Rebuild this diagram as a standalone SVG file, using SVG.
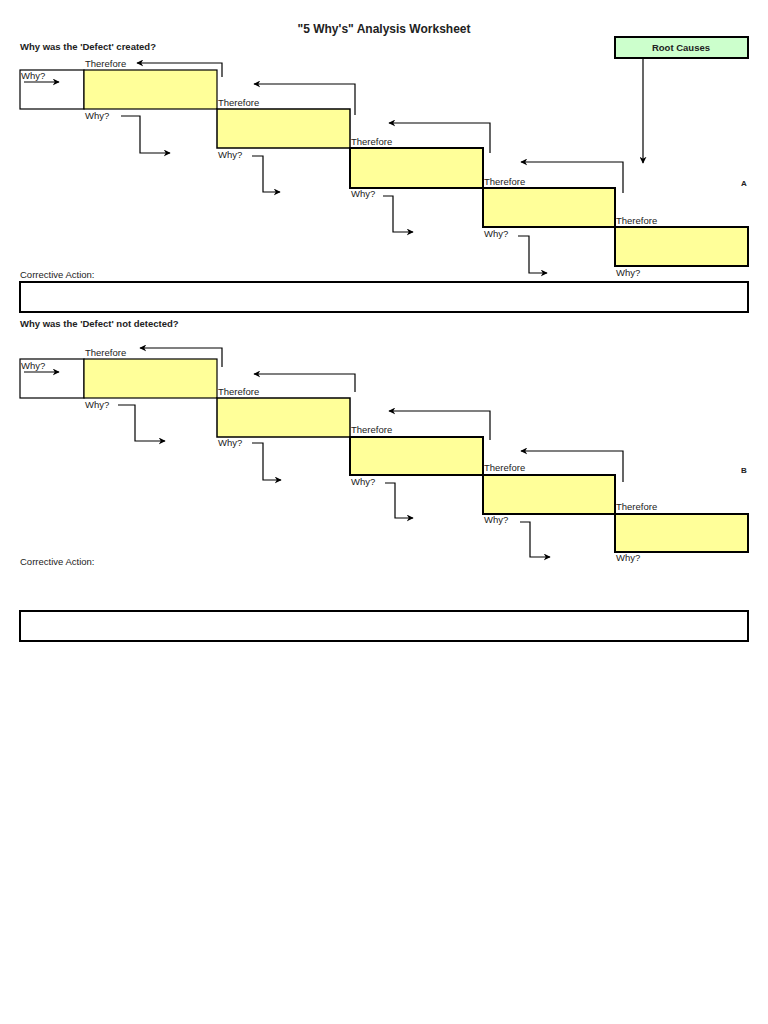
<svg xmlns="http://www.w3.org/2000/svg" width="768" height="1024" viewBox="0 0 768 1024">
<style>
text{font-family:"Liberation Sans",Arial,sans-serif;font-size:9.5px;fill:#222}
.b{font-weight:bold}
.y{fill:#ffff99;stroke:#000;stroke-width:2}
.w{fill:#fff;stroke:#000;stroke-width:1.2}
.c{fill:none;stroke:#000;stroke-width:1.2;marker-end:url(#ah)}
</style>
<defs><marker id="ah" viewBox="0 0 10 10" refX="9" refY="5" markerWidth="7" markerHeight="7" orient="auto" markerUnits="userSpaceOnUse"><path d="M0,0 L10,5 L0,10 L3,5 Z" fill="#000"/></marker></defs>
<rect width="768" height="1024" fill="#fff"/>
<text x="384" y="33" text-anchor="middle" class="b" style="font-size:12px">"5 Why's" Analysis Worksheet</text>
<g id="root"><rect x="615" y="37" width="133" height="21" fill="#ccffcc" stroke="#000" stroke-width="2"/><text x="681" y="51" text-anchor="middle" class="b">Root Causes</text></g>
<g id="sectionA">
<text x="20" y="50" class="b">Why was the 'Defect' created?</text>
<rect id="a0" x="20" y="70" width="64" height="39" class="w"/>
<rect id="a1" x="84" y="70" width="133" height="39" class="y" style="stroke-width:1.2"/>
<rect id="a2" x="217" y="109" width="133" height="39" class="y" style="stroke-width:1.5"/>
<rect id="a3" x="350" y="148" width="133" height="40" class="y"/>
<rect id="a4" x="483" y="188" width="132" height="39" class="y"/>
<rect id="a5" x="615" y="227" width="133" height="39" class="y"/>
<text x="85" y="67">Therefore</text><text x="218" y="106">Therefore</text><text x="351" y="145">Therefore</text><text x="484" y="185">Therefore</text><text x="616" y="224">Therefore</text>
<text x="21" y="79">Why?</text><text x="85" y="119">Why?</text><text x="218" y="158">Why?</text><text x="351" y="197">Why?</text><text x="484" y="237">Why?</text><text x="616" y="276">Why?</text>
<text x="741" y="186" class="b" style="font-size:8px">A</text>
<text x="20" y="278">Corrective Action:</text>
<rect x="20" y="282" width="728" height="30" fill="#fff" stroke="#000" stroke-width="2"/>
</g>
<g id="sectionB">
<text x="20" y="327" class="b">Why was the 'Defect' not detected?</text>
<rect id="b0" x="20" y="359" width="64" height="39" class="w"/>
<rect id="b1" x="84" y="359" width="133" height="39" class="y" style="stroke-width:1.2"/>
<rect id="b2" x="217" y="398" width="133" height="39" class="y" style="stroke-width:1.5"/>
<rect id="b3" x="350" y="437" width="133" height="38" class="y"/>
<rect id="b4" x="483" y="475" width="132" height="39" class="y"/>
<rect id="b5" x="615" y="514" width="133" height="38" class="y"/>
<text x="85" y="356">Therefore</text><text x="218" y="395">Therefore</text><text x="351" y="433">Therefore</text><text x="484" y="471">Therefore</text><text x="616" y="510">Therefore</text>
<text x="21" y="369">Why?</text><text x="85" y="408">Why?</text><text x="218" y="446">Why?</text><text x="351" y="485">Why?</text><text x="484" y="523">Why?</text><text x="616" y="561">Why?</text>
<text x="741" y="473" class="b" style="font-size:8px">B</text>
<text x="20" y="565">Corrective Action:</text>
<rect x="20" y="611" width="728" height="30" fill="#fff" stroke="#000" stroke-width="2"/>
</g>
<g id="connectors">
<path class="c" d="M643,58 V163"/>
<path class="c" d="M24,82 H59"/>
<path class="c" d="M222,77 V63 H137"/>
<path class="c" d="M355,115 V84 H254"/>
<path class="c" d="M490,153 V123 H389"/>
<path class="c" d="M623,193 V162 H521"/>
<path class="c" d="M121,116 H140 V153 H170"/>
<path class="c" d="M252,156 H263 V192 H280"/>
<path class="c" d="M383,196 H393 V232 H413"/>
<path class="c" d="M518,236 H529 V273 H547"/>
<path class="c" d="M24,372 H59"/>
<path class="c" d="M222,367 V348 H140"/>
<path class="c" d="M355,392 V374 H254"/>
<path class="c" d="M490,440 V411 H389"/>
<path class="c" d="M623,482 V451 H521"/>
<path class="c" d="M118,405 H135 V441 H165"/>
<path class="c" d="M252,443 H263 V480 H281"/>
<path class="c" d="M385,483 H395 V518 H413"/>
<path class="c" d="M520,522 H530 V557 H550"/>
</g>
</svg>
